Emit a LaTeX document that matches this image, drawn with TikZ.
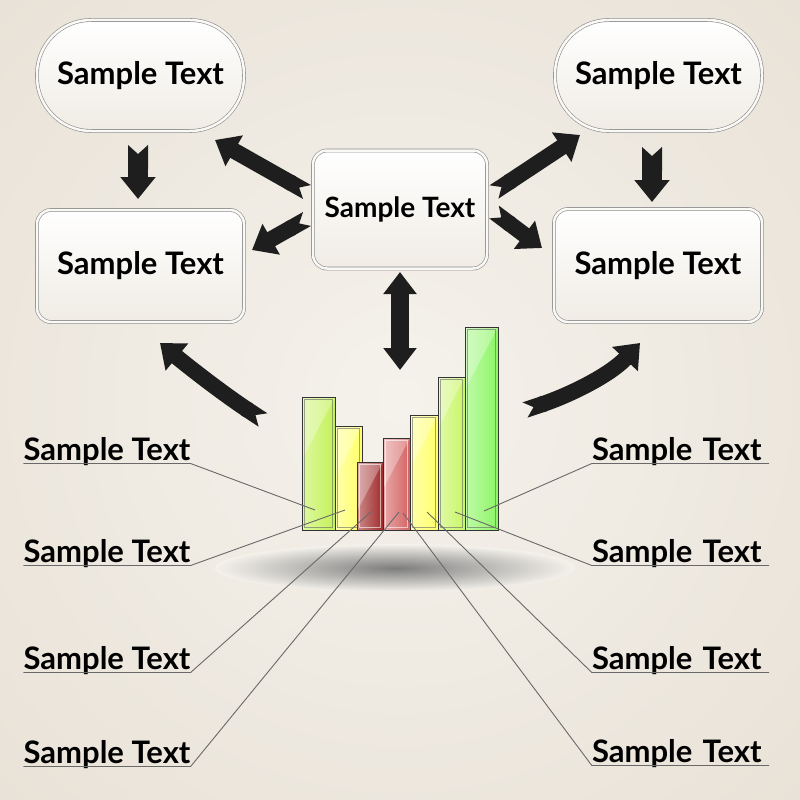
\documentclass[tikz,border=0pt]{standalone}
\usepackage{fontspec}
\setmainfont{Lato}
\usetikzlibrary{arrows.meta,calc}
\definecolor{bg}{RGB}{232,225,214}
\definecolor{bglight}{RGB}{245,242,236}
\definecolor{boxbot}{RGB}{240,236,229}
\definecolor{boxline}{RGB}{140,140,140}
\definecolor{boxdbl}{RGB}{250,249,246}
\definecolor{arrowc}{RGB}{30,30,30}
\definecolor{leadc}{RGB}{105,105,105}
\definecolor{shadowc}{RGB}{125,125,125}
\definecolor{cA}{RGB}{195,242,85}
\definecolor{cB}{RGB}{255,255,105}
\definecolor{cC}{RGB}{160,42,42}
\definecolor{cD}{RGB}{212,98,98}
\definecolor{cE}{RGB}{255,255,105}
\definecolor{cF}{RGB}{200,246,100}
\definecolor{cG}{RGB}{140,246,100}
\newcommand{\chartbar}[5]{%
  \shade[left color=#4!55!white, right color=#4] (#1,#3) rectangle (#2,530);
  \fill[white,opacity=0.30] (#1,#3) -- (#2,#3) -- ($(#1,#3)+(0,{1.9*(#2-#1)})$) -- cycle;
  \draw[#5,line width=0.5pt,opacity=0.6] ($(#1,#3)+(2.5,2.5)$) rectangle ($(#2,530)+(-2.5,-2.5)$);
  \draw[black!80,line width=0.9pt] (#1,#3) rectangle (#2,530);
}
\begin{document}
\begin{tikzpicture}[x=1pt,y=-1pt,
  boxstyle/.style={draw=boxline, line width=0.6pt, double=boxdbl, double distance=2.5pt,
     top color=white, bottom color=boxbot, inner sep=0pt,
     font=\fontsize{31}{36}\selectfont\bfseries, text=black},
  pill/.style={boxstyle, rounded corners=54pt, minimum width=207pt, minimum height=111pt},
  rbox/.style={boxstyle, rounded corners=14pt},
  lbl/.style={inner sep=0pt, anchor=base, font=\fontsize{31}{36}\selectfont\bfseries},
  leader/.style={draw=leadc, line width=0.9pt},
  bigarrow/.style={draw=arrowc, line width=#1, {Triangle Cap[reversed,length=9pt]}-{Triangle[length=22pt,width=34pt]}},
  dblarrow/.style={draw=arrowc, line width=18pt, {Triangle[length=22pt,width=32pt]}-{Triangle[length=22pt,width=32pt]}}
]
\useasboundingbox (0,0) rectangle (800,800);
\shade[inner color=bglight, outer color=bg] (-200,-200) rectangle (1000,1000);

% shadow under chart
\shade[inner color=shadowc, outer color=bglight] (395,568) ellipse (180 and 24);

% boxes
\node[pill] (tl) at (140.5,75.5) {Sample Text};
\node[pill] (tr) at (658.5,75.5) {Sample Text};
\node[rbox, minimum width=207pt, minimum height=112pt] (ml) at (140.5,266) {Sample Text};
\node[rbox, minimum width=174pt, minimum height=118pt, font=\fontsize{28}{32}\selectfont\bfseries] (c) at (400,209.5) {Sample Text};
\node[rbox, minimum width=208pt, minimum height=113pt] (mr) at (658,265.5) {Sample Text};

% arrow end points
\coordinate (a1s) at (138,145); \coordinate (a1e) at (138,199);
\coordinate (a2s) at (652,147); \coordinate (a2e) at (652,202);
\coordinate (a3s) at (307,192); \coordinate (a3e) at (215,140);
\coordinate (a4s) at (307,219); \coordinate (a4e) at (252,250);
\coordinate (a5s) at (494,192); \coordinate (a5e) at (580,135);
\coordinate (a6s) at (494,212); \coordinate (a6e) at (542,248);
\coordinate (a7s) at (400,272); \coordinate (a7e) at (400,370);
\coordinate (a8s) at (263,420); \coordinate (a8e) at (160,343);
\coordinate (a9s) at (525,410); \coordinate (a9e) at (640,343);

\draw[bigarrow=20pt] (a1s) -- (a1e);
\draw[bigarrow=20pt] (a2s) -- (a2e);
\draw[bigarrow=16pt] (a3s) -- (a3e);
\draw[bigarrow=16pt] (a4s) -- (a4e);
\draw[bigarrow=16pt] (a5s) -- (a5e);
\draw[bigarrow=16pt] (a6s) -- (a6e);
\draw[dblarrow] (a7s) -- (a7e);
\draw[bigarrow=16pt] (a8s) .. controls (225,395) and (190,368) .. (a8e);
\draw[bigarrow=16pt] (a9s) .. controls (570,395) and (610,375) .. (a9e);

% bar chart
\chartbar{302}{335}{397}{cA}{black!60}
\chartbar{335}{362}{426}{cB}{black!60}
\chartbar{357}{383}{462}{cC}{white}
\chartbar{383}{410}{438}{cD}{white}
\chartbar{410}{438}{415}{cE}{black!60}
\chartbar{438}{465}{377}{cF}{black!60}
\chartbar{465}{498}{327}{cG}{black!60}

% leader targets
\coordinate (p1) at (315,510); \coordinate (p2) at (345,510);
\coordinate (p3) at (372,511); \coordinate (p4) at (399,512);
\coordinate (q1) at (484,511); \coordinate (q2) at (455,512);
\coordinate (q3) at (427,512); \coordinate (q4) at (403,513);

% left labels
\node[lbl, minimum width=165pt] (l1) at (107,460) {Sample Text};
\node[lbl, minimum width=165pt] (l2) at (107,562) {Sample Text};
\node[lbl, minimum width=165pt] (l3) at (107,669) {Sample Text};
\node[lbl, minimum width=165pt] (l4) at (107,763) {Sample Text};
% right labels
\node[lbl, text width=177pt, align=left] (r1) at (680.5,460) {Sample Text};
\node[lbl, text width=177pt, align=left] (r2) at (680.5,562) {Sample Text};
\node[lbl, text width=177pt, align=left] (r3) at (680.5,669) {Sample Text};
\node[lbl, text width=177pt, align=left] (r4) at (680.5,762) {Sample Text};

\draw[leader] ([yshift=-3.5pt]l1.base west) -- ([yshift=-3.5pt]l1.base east) -- (p1);
\draw[leader] ([yshift=-3.5pt]l2.base west) -- ([yshift=-3.5pt]l2.base east) -- (p2);
\draw[leader] ([yshift=-3.5pt]l3.base west) -- ([yshift=-3.5pt]l3.base east) -- (p3);
\draw[leader] ([yshift=-3.5pt]l4.base west) -- ([yshift=-3.5pt]l4.base east) -- (p4);
\draw[leader] ([yshift=-3.5pt]r1.base east) -- ([yshift=-3.5pt]r1.base west) -- (q1);
\draw[leader] ([yshift=-3.5pt]r2.base east) -- ([yshift=-3.5pt]r2.base west) -- (q2);
\draw[leader] ([yshift=-3.5pt]r3.base east) -- ([yshift=-3.5pt]r3.base west) -- (q3);
\draw[leader] ([yshift=-3.5pt]r4.base east) -- ([yshift=-3.5pt]r4.base west) -- (q4);
\end{tikzpicture}
\end{document}
